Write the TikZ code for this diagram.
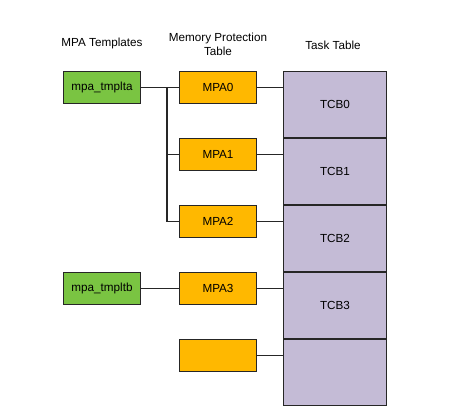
\documentclass[tikz,border=0pt]{standalone}
\usepackage{fontspec}
\setmainfont{Liberation Sans}
\usepackage{xcolor}
\usetikzlibrary{positioning}
\definecolor{tmplgreen}{RGB}{122,196,66}
\definecolor{mpaorange}{RGB}{255,184,0}
\definecolor{tcblilac}{RGB}{196,187,214}
\tikzset{
    box/.style={draw=black!85, line width=1.5pt, inner sep=0pt, font=\fontsize{11.7}{13}\selectfont},
    tmplbox/.style={box, fill=tmplgreen, minimum width=77pt, minimum height=32pt},
    mpabox/.style={box, fill=mpaorange, minimum width=77pt, minimum height=32pt},
    tcbbox/.style={box, fill=tcblilac, minimum width=103pt, minimum height=66pt},
    head/.style={align=center, font=\fontsize{11.7}{14}\selectfont},
    wire/.style={draw=black!85, line width=1.5pt}
}
\begin{document}
\begin{tikzpicture}[x=1pt, y=-1pt]
    \useasboundingbox (0,0) rectangle (474,420);
    % column headings
    \node[head] (hdtmpl) at (102,43) {MPA Templates};
    \node[head] (hdmpa) at (218,44) {Memory Protection\\Table};
    \node[head] (hdtask) at (333,45) {Task Table};

    % task table
    \foreach \i in {0,...,4}
        \node[tcbbox] (tcb\i) at (335,{104.5+67*\i}) {};
    \foreach \i in {0,...,3}
        \node at (tcb\i) {\fontsize{11.7}{13}\selectfont TCB\i};

    % memory protection table
    \foreach \i in {0,...,3}
        \node[mpabox] (mpa\i) at (218,{87.5+67*\i}) {MPA\i};
    \node[mpabox] (mpa4) at (218,355.5) {};

    % templates
    \node[tmplbox] (tmpla) at (102,87.5) {mpa\_tmplta};
    \node[tmplbox] (tmplb) at (102,288.5) {mpa\_tmpltb};

    % connections
    \coordinate (bus) at (167,87.5);
    \draw[wire] (tmpla.east) -- (mpa0.west);
    \draw[wire] (bus) |- (mpa1.west);
    \draw[wire] (bus) |- (mpa2.west);
    \draw[wire] (tmplb.east) -- (mpa3.west);
    \foreach \i in {0,...,4}
        \draw[wire] (mpa\i.east) -- (mpa\i.east -| tcb\i.west);
\end{tikzpicture}
\end{document}
